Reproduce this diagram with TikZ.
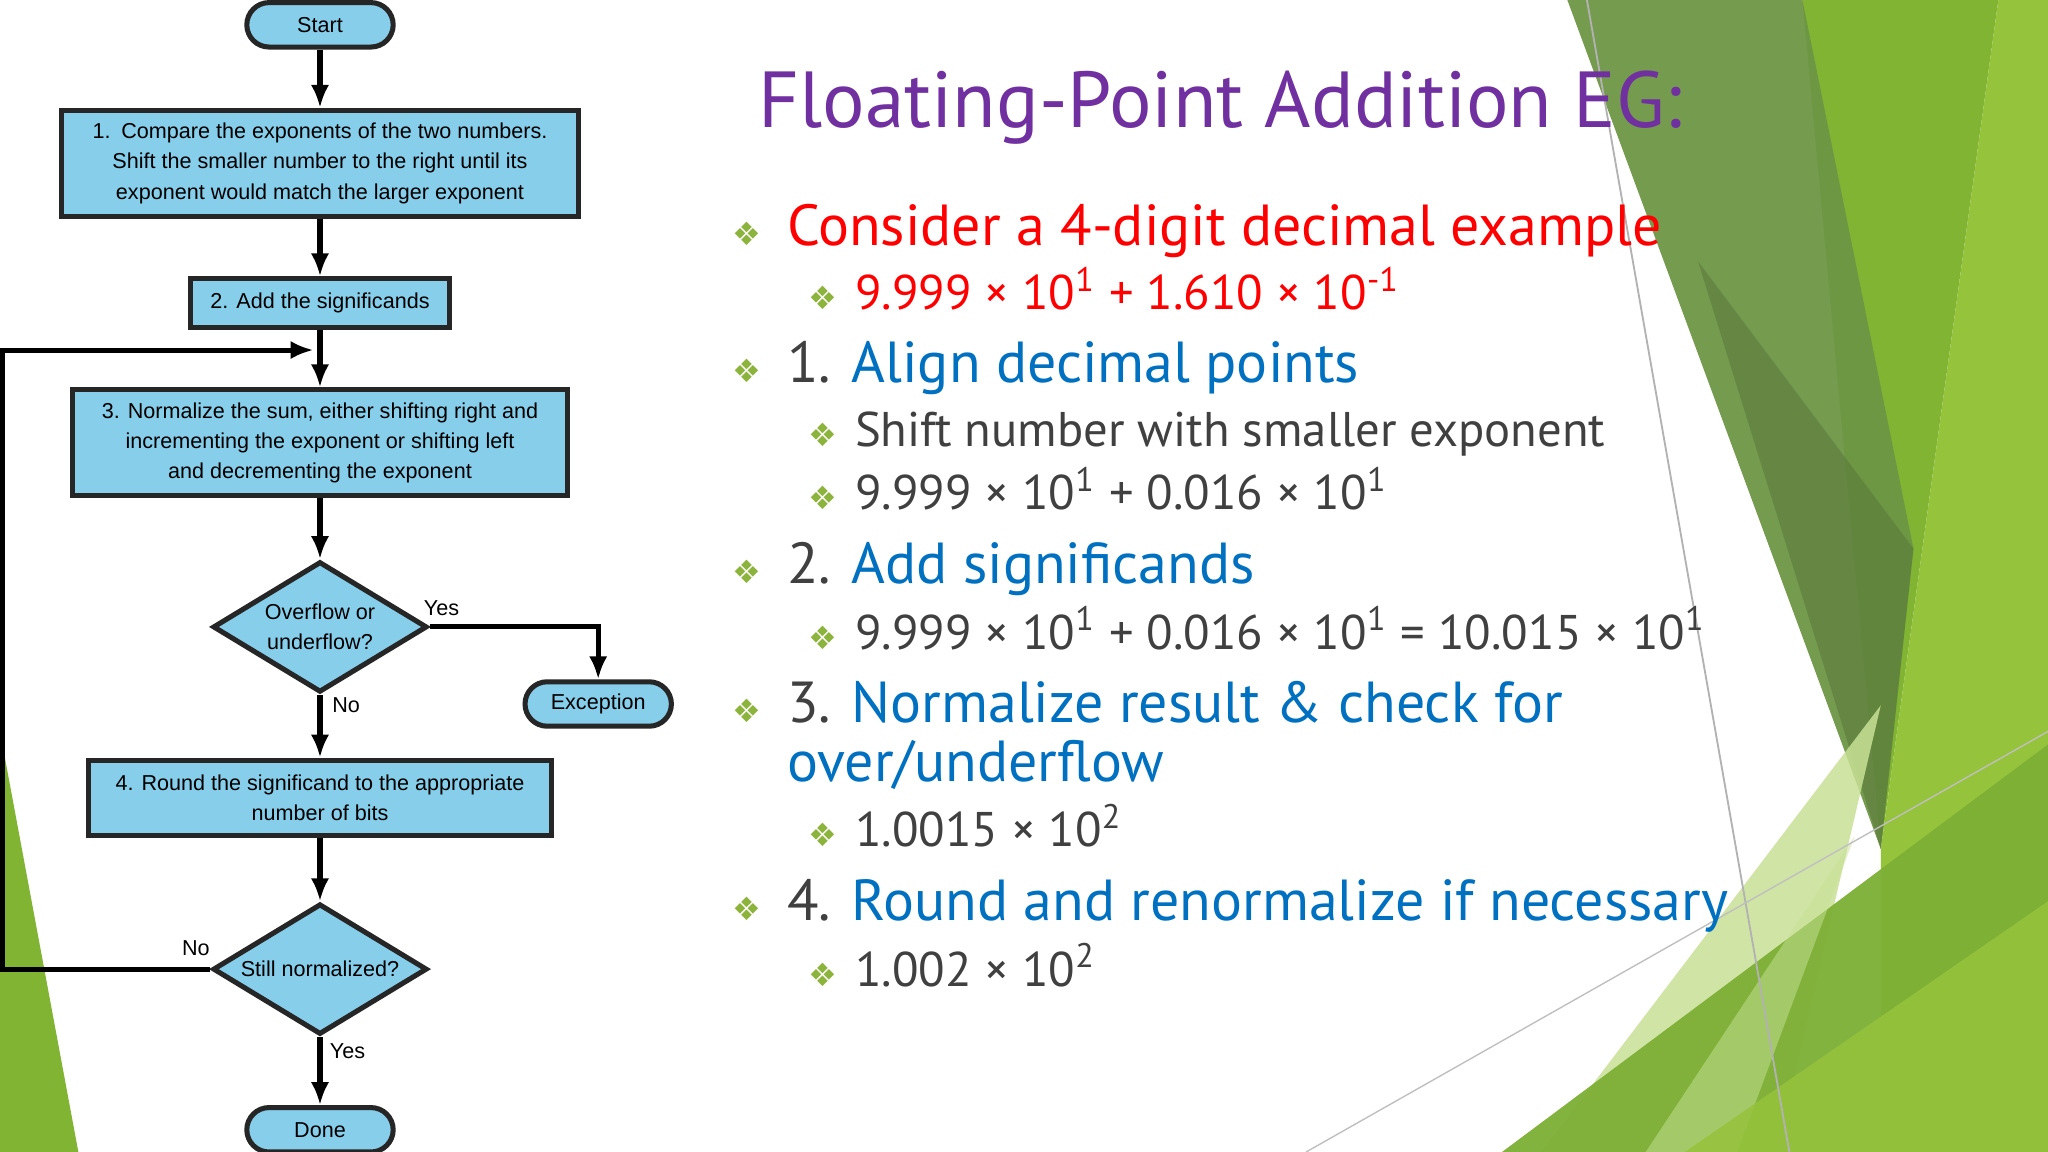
\documentclass[tikz,border=0pt]{standalone}
\usepackage{fontspec}
\setmainfont{PT Sans}
\newfontfamily\flowfont{Liberation Sans}
\newfontfamily\symfont{DejaVu Sans}
\usetikzlibrary{shapes.geometric,arrows.meta}
\definecolor{fcblue}{RGB}{135,206,235}
\definecolor{ttl}{RGB}{112,48,160}
\definecolor{blu}{RGB}{0,112,192}
\definecolor{gry}{RGB}{64,64,64}
\definecolor{bulg}{RGB}{140,180,60}
\definecolor{olive}{RGB}{110,150,70}
\definecolor{ygreen}{RGB}{128,180,50}
\definecolor{lgreen}{RGB}{150,195,60}
\definecolor{pgreen}{RGB}{200,225,150}
\begin{document}
\begin{tikzpicture}[x=0.01cm,y=-0.01cm,
  box/.style={draw=black!85,line width=1.1pt,fill=fcblue,font=\flowfont\fontsize{4.7pt}{6.6pt}\selectfont,align=center,inner sep=0pt},
  term/.style={box,rounded corners=0.17cm,minimum width=1.12cm,minimum height=0.34cm},
  dia/.style={box,shape=diamond,aspect=1.64,minimum width=1.64cm,minimum height=1.0cm},
  arr/.style={line width=1.1pt,-{Latex[length=5pt,width=4pt]}},
  lab/.style={font=\flowfont\fontsize{4.7pt}{5pt}\selectfont,inner sep=0pt},
  l1/.style={anchor=base west,inner sep=0pt,font=\fontsize{12.6pt}{14pt}\selectfont},
  l2/.style={anchor=base west,inner sep=0pt,font=\fontsize{10.6pt}{12pt}\selectfont,text=gry},
  bul/.style={anchor=base west,inner sep=0pt,text=bulg,font=\symfont\fontsize{7pt}{8pt}\selectfont}]
\useasboundingbox (0,0) rectangle (1568,882);
\fill[white] (0,0) rectangle (1568,882);
% background decoration
\fill[ygreen] (1380,0) -- (1530,0) -- (1440,650) -- cycle;
\fill[olive,opacity=0.95] (1200,0) -- (1380,0) -- (1465,420) -- (1440,650) -- cycle;
\fill[olive!75!black,opacity=0.45] (1300,200) -- (1465,420) -- (1440,650) -- cycle;
\fill[lgreen] (1530,0) -- (1568,0) -- (1568,882) -- (1440,882) -- (1440,650) -- cycle;
\fill[pgreen,opacity=0.85] (1180,882) -- (1440,540) -- (1360,882) -- cycle;
\fill[ygreen!85!olive,opacity=0.95] (1150,882) -- (1568,570) -- (1568,882) -- cycle;
\fill[pgreen,opacity=0.5] (1260,882) -- (1420,640) -- (1330,882) -- cycle;
\fill[lgreen,opacity=0.85] (1290,882) -- (1568,690) -- (1568,882) -- cycle;
\fill[ygreen] (0,560) -- (60,882) -- (0,882) -- cycle;
\draw[gray!60,line width=0.4pt] (1215,0) -- (1370,882);
\draw[gray!50,line width=0.3pt] (1000,882) -- (1568,560);
% flowchart
\node[term] (start) at (245,19) {Start};
\node[box,minimum width=3.95cm,minimum height=0.81cm] (b1) at (245,125) {1.\enspace Compare the exponents of the two numbers.\\Shift the smaller number to the right until its\\exponent would match the larger exponent};
\node[box,minimum width=1.98cm,minimum height=0.37cm] (b2) at (245,232) {2. Add the significands};
\node[box,minimum width=3.79cm,minimum height=0.81cm] (b3) at (245,339) {3. Normalize the sum, either shifting right and\\incrementing the exponent or shifting left\\and decrementing the exponent};
\node[dia] (d1) at (245,480) {Overflow or\\underflow?};
\node[term] (exc) at (458,539) {Exception};
\node[box,minimum width=3.55cm,minimum height=0.58cm] (b4) at (245,611) {4. Round the significand to the appropriate\\number of bits};
\node[dia] (d2) at (245,742) {Still normalized?};
\node[term] (done) at (245,865) {Done};
\coordinate (c1) at (2,742);
\coordinate (c2) at (2,268);
\coordinate (c3) at (240,268);
\coordinate (c4) at (458,480);
\draw[arr] (start) -- (b1);
\draw[arr] (b1) -- (b2);
\draw[arr] (b2) -- (b3);
\draw[arr] (b3) -- (d1);
\draw[arr] (d1) -- (b4);
\draw[arr] (b4) -- (d2);
\draw[arr] (d2) -- (done);
\draw[arr] (d1.east) -- (c4) -- (exc.north);
\draw[arr] (d2.west) -- (c1) -- (c2) -- (c3);
\node[lab] (ly1) at (338,466) {Yes};
\node[lab] (ln1) at (265,540) {No};
\node[lab] (ln2) at (150,726) {No};
\node[lab] (ly2) at (266,805) {Yes};
% text
\node[anchor=base west,inner sep=0pt,text=ttl,font=\fontsize{17.3pt}{20pt}\selectfont] (title) at (580,98) {Floating-Point Addition EG:};
\node[bul] (k1) at (560,188) {❖};
\node[l1,text=red] (t1) at (602,188) {Consider a 4-digit decimal example};
\node[bul] (k2) at (618,237) {❖};
\node[l2,text=red] (t2) at (654,237) {9.999 × 10\textsuperscript{1} + 1.610 × 10\textsuperscript{-1}};
\node[bul] (k3) at (560,293) {❖};
\node[l1,text=gry] (t3) at (602,293) {1. \textcolor{blu}{Align decimal points}};
\node[bul] (k4) at (618,342) {❖};
\node[l2] (t4) at (654,342) {Shift number with smaller exponent};
\node[bul] (k5) at (618,390) {❖};
\node[l2] (t5) at (654,390) {9.999 × 10\textsuperscript{1} + 0.016 × 10\textsuperscript{1}};
\node[bul] (k6) at (560,447) {❖};
\node[l1,text=gry] (t6) at (602,447) {2. \textcolor{blu}{Add significands}};
\node[bul] (k7) at (618,497) {❖};
\node[l2] (t7) at (654,497) {9.999 × 10\textsuperscript{1} + 0.016 × 10\textsuperscript{1} = 10.015 × 10\textsuperscript{1}};
\node[bul] (k8) at (560,553) {❖};
\node[l1,text=gry] (t8) at (602,553) {3. \textcolor{blu}{Normalize result \& check for}};
\node[l1,text=blu] (t8b) at (602,598) {over/underflow};
\node[bul] (k9) at (618,648) {❖};
\node[l2] (t9) at (654,648) {1.0015 × 10\textsuperscript{2}};
\node[bul] (k10) at (560,705) {❖};
\node[l1,text=gry] (t10) at (602,705) {4. \textcolor{blu}{Round and renormalize if necessary}};
\node[bul] (k11) at (618,755) {❖};
\node[l2] (t11) at (654,755) {1.002 × 10\textsuperscript{2}};
\end{tikzpicture}
\end{document}
